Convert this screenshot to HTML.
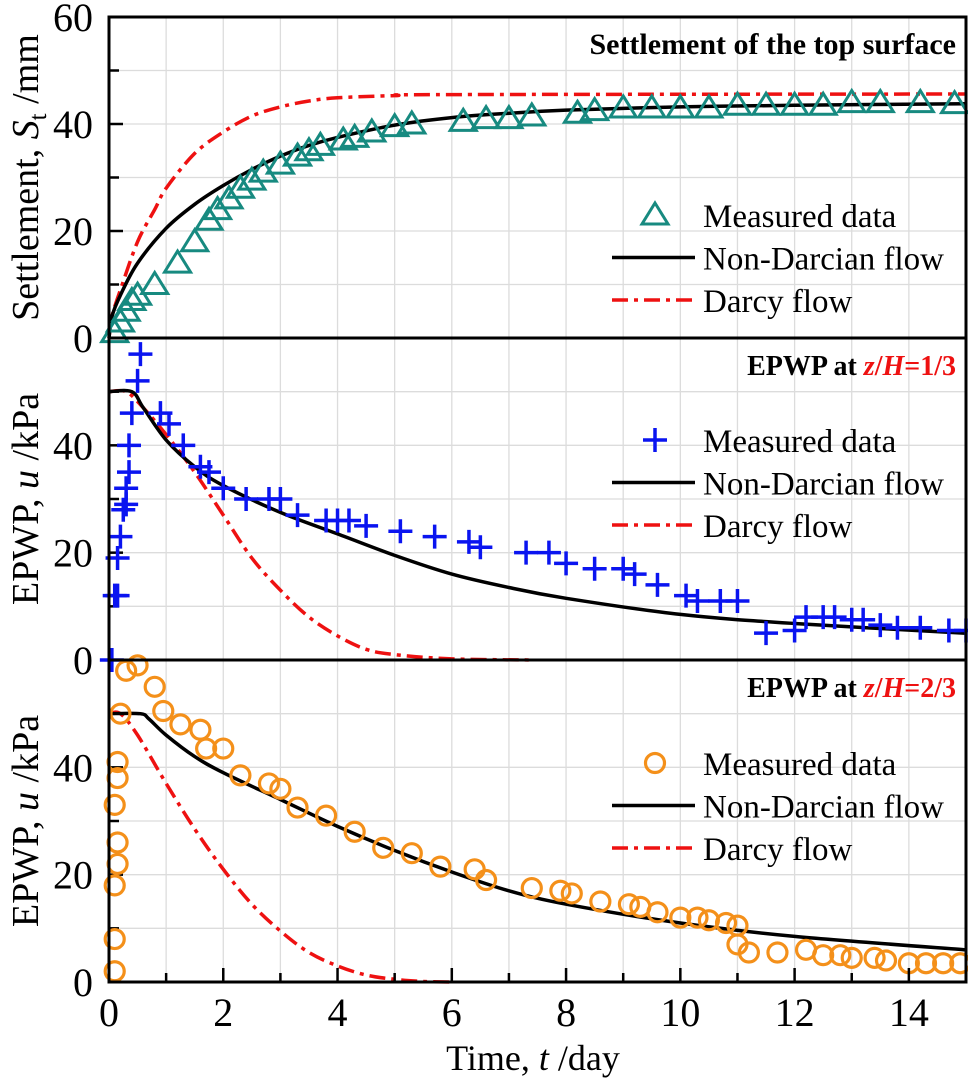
<!DOCTYPE html>
<html><head><meta charset="utf-8"><style>
body{margin:0;background:#fff;}
svg{display:block;font-family:"Liberation Serif","Times New Roman",serif;}
svg text{font-family:"Liberation Serif","Times New Roman",serif;}
</style></head><body>
<svg id="c" width="968" height="1080" viewBox="0 0 968 1080"></svg>
<script>
const xTicks=[0,2,4,6,8,10,12,14];
const yTicks=[0,20,40,60];
// Panel 1: settlement
const setMeasT=[0.1,0.2,0.3,0.4,0.5,0.8,1.2,1.5,1.75,1.9,2.1,2.3,2.5,2.7,3,3.3,3.5,3.7,4.1,4.3,4.6,5,5.3,6.2,6.6,7,7.4,8.2,8.5,9,9.5,10,10.5,11,11.5,12,12.5,13,13.5,14.2,14.8];
const setMeasV=[1,3,5,7,8,10,14,18,22,24,26,28,29.5,31,32.5,34,35,36,37,37.5,38.5,39.5,40,40.5,41,41,41.5,42,42.5,43,43,43,43,43.5,43.5,43.5,43.5,44,44,44,43.8];
const setNDT=[0,0.05,0.2,0.5,1,1.5,2,2.5,3,3.5,4,5,6,7,8,10,12,15];
const setNDV=[0,4,8,14,20.5,25,28.5,31.5,34,36,37.5,39.8,41.2,42,42.6,43.2,43.5,43.8];
const setDT=[0,0.05,0.2,0.5,0.8,1,1.5,2,2.5,3,3.5,4,5,6,15];
const setDV=[0,4,9,18,24,28,34.5,38.5,41.5,43.2,44.3,44.9,45.3,45.5,45.6];
// Panel 2: EPWP z/H=1/3
const p1MeasT=[0.05,0.1,0.15,0.15,0.2,0.25,0.3,0.3,0.35,0.35,0.4,0.5,0.55,0.9,1.05,1.3,1.6,1.75,2,2.4,2.8,3,3.3,3.8,4,4.2,4.5,5.1,5.7,6.3,6.5,7.3,7.7,8,8.5,9,9.2,9.6,10.1,10.3,10.7,11,11.5,12,12.2,12.5,12.7,13,13.2,13.5,13.8,14.2,14.7,15];
const p1MeasV=[0,12,12,19,23,28,29,32,35,40,46,52,57,46,44,40,36,35,32,30,30,30,27,26,26,26,25,24,23,22,21,20,20,18,17,17,16,14,12,11,11,11,5,5.5,8,8,8,7.5,7.5,6.5,6,6,5.5,5.5];
const p1NDT=[0,0.4,0.6,1,1.5,2,3,4,5,6,7,8,10,12,15];
const p1NDV=[50,50,47,41,36,32.5,27.5,23.5,19.5,16,13.5,11.5,8.5,6.8,5];
const p1DT=[0,0.3,0.6,1,1.5,2,2.5,3,3.5,4,4.5,5,6,7.4];
const p1DV=[50,50,47,42,35,27,19,13,8,4.5,2,1,0.2,0];
// Panel 3: EPWP z/H=2/3
const p2MeasT=[0.1,0.1,0.1,0.15,0.15,0.1,0.15,0.15,0.2,0.3,0.5,0.8,0.95,1.25,1.6,1.7,2,2.3,2.8,3,3.3,3.8,4.3,4.8,5.3,5.8,6.4,6.6,7.4,7.9,8.1,8.6,9.1,9.3,9.6,10,10.3,10.5,10.8,11,11,11.2,11.7,12.2,12.5,12.8,13,13.4,13.6,14,14.3,14.6,14.9];
const p2MeasV=[2,8,18,22,26,33,38,41,50,58,59,55,50.5,48,47,43.5,43.5,38.5,37,36,32.5,31,28,25,24,21.5,21,19,17.5,17,16.5,15,14.5,14,13,12,12,11.5,11,10.5,7,5.5,5.5,6,5,5,4.5,4.5,4,3.5,3.5,3.5,3.5];
const p2NDT=[0,0.55,0.7,1,1.5,2,3,4,5,6,7,8,10,12,15];
const p2NDV=[50,50,49,46,42,39,34,29,24.5,20.5,17,14.5,11,8.5,6];
const p2DT=[0,0.2,0.5,1,1.5,2,2.5,3,3.5,4,4.5,5,5.5,6];
const p2DV=[50,50,46,37,28.5,21,14.5,9.5,5.5,3,1.3,0.5,0.1,0];

const NS='http://www.w3.org/2000/svg';
const svg=document.getElementById('c');
const FF='"Liberation Serif","Times New Roman",serif';
function el(tag,attrs,parent,text){const e=document.createElementNS(NS,tag);for(const k in attrs)e.setAttribute(k,attrs[k]);if(tag==='text')e.setAttribute('font-family',FF);if(text!==undefined)e.textContent=text;(parent||svg).appendChild(e);return e;}
const X0=109,X1=966;
const xs=t=>X0+(t/15)*(X1-X0);
const panels=[{top:17,bot:338},{top:338,bot:660},{top:660,bot:982}];
function ysFn(p){return v=>p.bot-(v/60)*(p.bot-p.top);}
function linePath(T,V,ys){
  const P=T.map((t,i)=>[xs(t),ys(V[i])]);
  let d='M'+P[0][0].toFixed(1)+','+P[0][1].toFixed(1);
  for(let i=0;i<P.length-1;i++){
    const p0=P[Math.max(0,i-1)],p1=P[i],p2=P[i+1],p3=P[Math.min(P.length-1,i+2)];
    const c1=[p1[0]+(p2[0]-p0[0])/6,p1[1]+(p2[1]-p0[1])/6];
    const c2=[p2[0]-(p3[0]-p1[0])/6,p2[1]-(p3[1]-p1[1])/6];
    d+='C'+c1[0].toFixed(1)+','+c1[1].toFixed(1)+' '+c2[0].toFixed(1)+','+c2[1].toFixed(1)+' '+p2[0].toFixed(1)+','+p2[1].toFixed(1);
  }
  return d;
}
const DASH='16,6,4,6';
function drawPanel(pi,cfg){
  const p=panels[pi],ys=ysFn(p);
  const g=el('g',{});
  
  
  for(let t=1;t<15;t++){const l=el('line',{x1:xs(t),x2:xs(t),y1:p.top,y2:p.bot,stroke:'#dcdcdc','stroke-width':1.3},g);}
  for(let v=10;v<60;v+=10){const l=el('line',{x1:X0,x2:X1,y1:ys(v),y2:ys(v),stroke:'#dcdcdc','stroke-width':1.3},g);}
  for(let v=0;v<=60;v+=10){const l=el('line',{x1:X0,x2:X0+(v%20===0?14:10),y1:ys(v),y2:ys(v),stroke:'#000','stroke-width':2.5},g);}
  yTicks.forEach(v=>{if(v===60&&pi>0)return;const t=el('text',{x:93,y:ys(v)+14,'font-size':40,'text-anchor':'end'},g,String(v));});
  const dp=el('path',{d:linePath(cfg.dT,cfg.dV,ys),fill:'none',stroke:'#ee1111','stroke-width':3.5,'stroke-dasharray':DASH},g);
  
  const np=el('path',{d:linePath(cfg.nT,cfg.nV,ys),fill:'none',stroke:'#000','stroke-width':3.5},g);
  
  const mg=el('g',{},g);
  for(let i=0;i<cfg.mT.length;i++){const m=marker(cfg.mk,xs(cfg.mT[i]),ys(cfg.mV[i]),mg);}
  const fr=el('rect',{x:X0,y:p.top,width:X1-X0,height:p.bot-p.top,fill:'none',stroke:'#000','stroke-width':3},g);
  
  const tt=el('text',{x:956,y:p.top+37,'font-size':cfg.tfs,'font-weight':'bold','text-anchor':'end'},g);
  
  tt.innerHTML=cfg.title;
  const ly=cfg.ly;
  const lg=el('g',{},g);
  const m=marker(cfg.mk,655,ly,lg);
  ['Measured data','Non-Darcian flow','Darcy flow'].forEach((s,i)=>{const t=el('text',{x:703,y:ly+12+i*42.5,'font-size':33},lg,s);});
  const l1=el('line',{x1:612,x2:695,y1:ly+42.5,y2:ly+42.5,stroke:'#000','stroke-width':3.5},lg);
  const l2=el('line',{x1:612,x2:695,y1:ly+85,y2:ly+85,stroke:'#ee1111','stroke-width':3.5,'stroke-dasharray':DASH},lg);
  const yt=el('text',{transform:`translate(${cfg.ytx},${(p.top+p.bot)/2}) rotate(-90)`,'font-size':38,'text-anchor':'middle'},g);
  
  yt.innerHTML=cfg.ytitle;
}
function marker(type,x,y,parent){
  if(type==='tri'){return el('path',{d:`M${x},${y-12}L${x+13},${y+9}L${x-13},${y+9}Z`,fill:'none',stroke:'#178a80','stroke-width':3},parent);}
  if(type==='plus'){return el('path',{d:`M${x-12},${y}H${x+12}M${x},${y-12}V${y+12}`,fill:'none',stroke:'#0a14f0','stroke-width':3.5},parent);}
  return el('circle',{cx:x,cy:y,r:9.5,fill:'none',stroke:'#f4901a','stroke-width':3.2},parent);
}
drawPanel(0,{name:'settlement-panel',mk:'tri',mT:setMeasT,mV:setMeasV,nT:setNDT,nV:setNDV,dT:setDT,dV:setDV,ly:215,tfs:30,
  title:'Settlement of the top surface',ytx:38,ytitle:'Settlement, <tspan font-style="italic">S</tspan><tspan font-size="25" dy="8">t</tspan><tspan dy="-8"> /mm</tspan>'});
drawPanel(1,{name:'epwp-1-3-panel',mk:'plus',mT:p1MeasT,mV:p1MeasV,nT:p1NDT,nV:p1NDV,dT:p1DT,dV:p1DV,ly:440,tfs:28,
  title:'EPWP at <tspan fill="#ee1111" font-style="italic">z</tspan><tspan fill="#ee1111">/</tspan><tspan fill="#ee1111" font-style="italic">H</tspan><tspan fill="#ee1111">=1/3</tspan>',ytx:38,ytitle:'EPWP, <tspan font-style="italic">u</tspan> /kPa'});
drawPanel(2,{name:'epwp-2-3-panel',mk:'circ',mT:p2MeasT,mV:p2MeasV,nT:p2NDT,nV:p2NDV,dT:p2DT,dV:p2DV,ly:763,tfs:28,
  title:'EPWP at <tspan fill="#ee1111" font-style="italic">z</tspan><tspan fill="#ee1111">/</tspan><tspan fill="#ee1111" font-style="italic">H</tspan><tspan fill="#ee1111">=2/3</tspan>',ytx:38,ytitle:'EPWP, <tspan font-style="italic">u</tspan> /kPa'});
for(let t=1;t<15;t++){const l=el('line',{x1:xs(t),x2:xs(t),y1:982,y2:982-(t%2===0?14:9),stroke:'#000','stroke-width':2.5});}
xTicks.forEach(t=>{const e=el('text',{x:xs(t),y:1026,'font-size':40,'text-anchor':'middle'},svg,String(t));});
const xt=el('text',{x:533,y:1070,'font-size':36,'text-anchor':'middle'});

xt.innerHTML='Time, <tspan font-style="italic">t</tspan> /day';
</script>
</body></html>
